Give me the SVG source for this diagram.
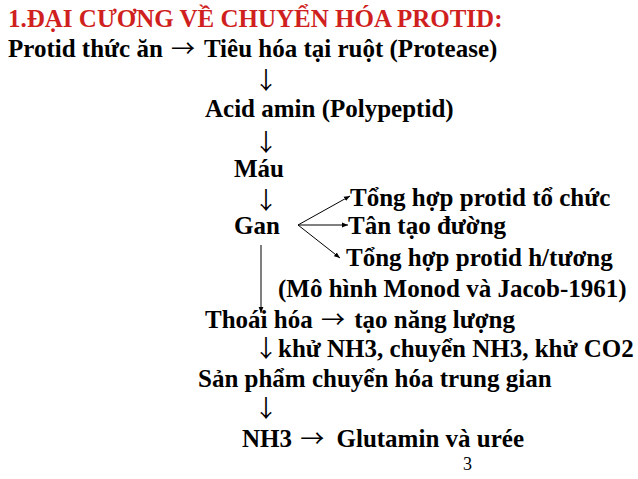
<svg xmlns="http://www.w3.org/2000/svg" width="638" height="479" viewBox="0 0 638 479">
<style>
text{font-family:"Liberation Serif","Times New Roman",serif;font-weight:bold;font-size:25px;fill:#000}
.title{fill:#d01f1f}
.pg{font-weight:normal;font-size:18px}
.ar{font-weight:normal;font-family:"Noto Sans CJK SC","Liberation Serif",sans-serif;font-size:24px}
.c{stroke:#000;stroke-width:1;fill:none}
</style>
<defs>
<marker id="ah" viewBox="0 0 10 10" refX="10" refY="5" markerWidth="6" markerHeight="6" orient="auto" markerUnits="userSpaceOnUse"><path d="M0,1 L10,5 L0,9 z" fill="#000"/></marker>
</defs>
<rect width="638" height="479" fill="#fff"/>
<text class="title" x="8" y="27">1.ĐẠI CƯƠNG VỀ CHUYỂN HÓA PROTID:</text>
<g id="n1"><text x="8" y="57">Protid thức ăn <tspan class="ar" dx="2">→</tspan><tspan dx="3"> Tiêu hóa tại ruột (Protease)</tspan></text></g>
<text class="ar" x="254" y="89">↓</text>
<g id="n2"><text x="205" y="117">Acid amin (Polypeptid)</text></g>
<text class="ar" x="254" y="151">↓</text>
<g id="n3"><text x="234" y="177">Máu</text></g>
<text class="ar" x="254" y="209">↓</text>
<g id="n4"><text x="234" y="234">Gan</text></g>
<g id="n5"><text x="350" y="206">Tổng hợp protid tổ chức</text></g>
<g id="n6"><text x="348" y="234">Tân tạo đường</text></g>
<g id="n7"><text x="346" y="266">Tổng hợp protid h/tương</text></g>
<g id="n8"><text x="278" y="297">(Mô hình Monod và Jacob-1961)</text></g>
<g id="n9"><text x="205" y="328">Thoái hóa <tspan class="ar" dx="2">→</tspan><tspan dx="3"> tạo năng lượng</tspan></text></g>
<g id="n10"><text x="254" y="357"><tspan class="ar">↓</tspan>khử NH3, chuyển NH3, khử CO2</text></g>
<g id="n11"><text x="198" y="387">Sản phẩm chuyển hóa trung gian</text></g>
<text class="ar" x="254" y="417">↓</text>
<g id="n12"><text x="242" y="447">NH3 <tspan class="ar" dx="2">→</tspan><tspan dx="6"> Glutamin và urée</tspan></text></g>
<text class="pg" x="463" y="470">3</text>
<g id="connectors">
<line class="c" x1="298" y1="225" x2="350" y2="196" marker-end="url(#ah)"/>
<line class="c" x1="298" y1="225" x2="348" y2="225" marker-end="url(#ah)"/>
<line class="c" x1="298" y1="225" x2="340" y2="258" marker-end="url(#ah)"/>
<line class="c" x1="261" y1="245" x2="261" y2="313" marker-end="url(#ah)"/>
</g>
</svg>
